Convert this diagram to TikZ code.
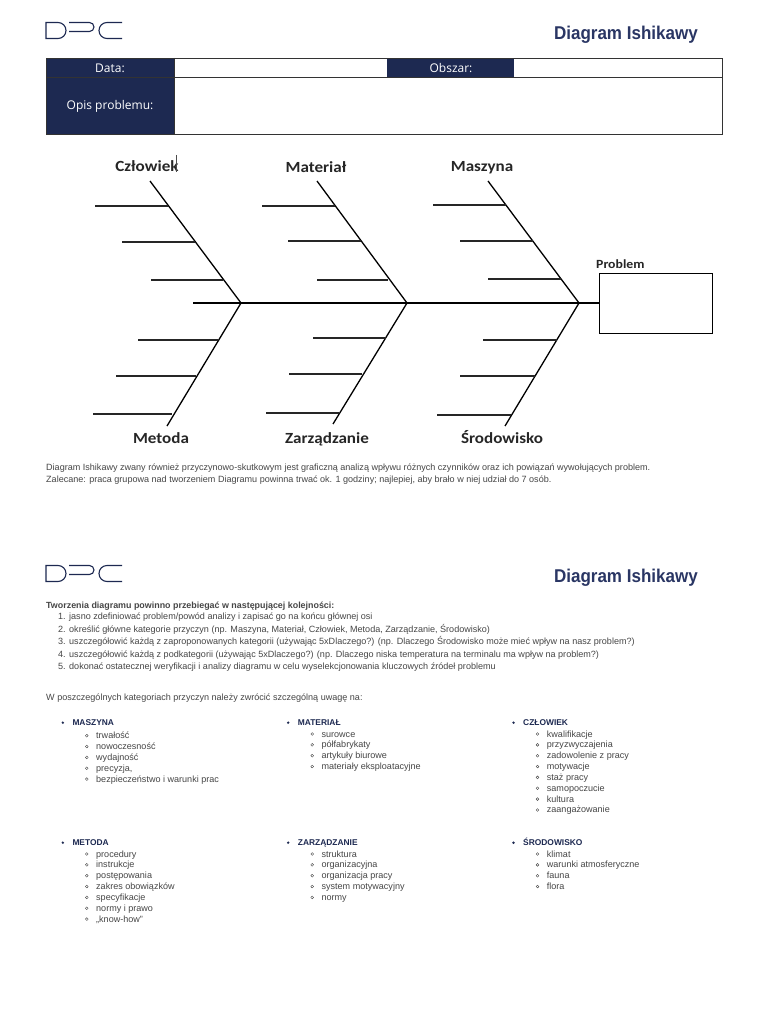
\documentclass[tikz,border=0pt]{standalone}
\usepackage{fontspec}
\setmainfont{Liberation Sans}
\newfontfamily\boldlabel{Carlito}[FakeStretch=1.1]
\newfontfamily\titlefont{Liberation Sans}[FakeStretch=0.92]
\newfontfamily\cellfont{Open Sans}
\definecolor{dpcnavy}{RGB}{29,41,81}
\definecolor{dpctitle}{RGB}{42,54,100}
\definecolor{dpctext}{RGB}{70,70,70}
\tikzset{
  ishi/.style={x=1pt,y=-1pt},
  bone/.style={black,line width=1.3pt},
  rib/.style={black!85,line width=1.3pt},
  cell/.style={text=white,font=\cellfont\fontsize{12}{14}\selectfont},
  bonelabel/.style={anchor=base,font=\boldlabel\bfseries\fontsize{15.5}{17}\selectfont,text=black!85},
  headline/.style={anchor=east,inner sep=0pt,text=dpctitle,font=\titlefont\bfseries\fontsize{18.5}{20}\selectfont},
  body/.style={anchor=base west,inner sep=0pt,text=dpctext,font=\fontsize{9.05}{11}\selectfont},
  cat/.style={anchor=base west,inner sep=0pt,text=dpcnavy,font=\fontsize{8.4}{11}\selectfont\bfseries},
  logo/.style={dpcnavy,line width=1.1pt}
}
\newcommand{\dpclogo}[1]{%
  \begin{scope}[shift={(46,#1)}]
    \draw[logo] (0,0.5) -- (12,0.5) arc[start angle=-90,end angle=90,radius=8] -- (0,16.5) -- cycle; % D
    \draw[logo] (23,0.5) -- (43.5,0.5) arc[start angle=-90,end angle=90,radius=4.5] -- (23,9.5); % P
    \draw[logo] (76,0.5) -- (61,0.5) arc[start angle=-90,end angle=-270,radius=8] -- (76,16.5); % C
  \end{scope}}
\begin{document}
\begin{tikzpicture}[ishi]
  \useasboundingbox (0,0) rectangle (768,1024);
  \fill[white] (0,0) rectangle (768,1024);

  % first header
  \dpclogo{22}
  \node[headline] (title1) at (698,34.5) {Diagram Ishikawy};

  % form table
  \fill[dpcnavy] (46,58) rectangle (174,134);
  \fill[dpcnavy] (387,58) rectangle (514,77);
  \draw[black!80,line width=0.8pt] (46,58) rectangle (722,134);
  \draw[black!80,line width=0.8pt] (46,77) -- (722,77);
  \draw[black!80,line width=0.8pt] (174,58) -- (174,134);
  \node[cell] (data) at (110,68) {Data:};
  \node[cell] (obszar) at (451,68) {Obszar:};
  \node[cell] (opis) at (110,106) {Opis problemu:};

  % main spine
  \coordinate (tail) at (193,303);
  \coordinate (headA) at (241,303);
  \coordinate (headB) at (407,303);
  \coordinate (headC) at (579,303);
  \node[draw=black,line width=1pt,minimum width=113pt,minimum height=60pt,inner sep=0pt] (problem) at (655.5,303) {};
  \draw[bone] (tail) -- (problem.west);

  % big bones
  \foreach \h/\tx/\bx/\by in {headA/150/167/426,headB/317/333/424,headC/488/505/426} {
    \draw[bone] (\tx,181) -- (\h);
    \draw[bone] (\bx,\by) -- (\h);
  }

  % small ribs
  \foreach \x/\X/\y in {95/168/206,122/195/242,151/223/280,
                        138/218/340,116/196/376,93/172/414,
                        262/335/206,288/361/241,317/388/280,
                        313/386/338,289/362/374,266/339/413,
                        433/506/205,460/533/241,488/561/279,
                        483/557/340,460/535/376,437/511/415}
    \draw[rib] (\x,\y) -- (\X,\y);

  % bone names
  \node[bonelabel] (czlowiek) at (147,172) {Człowiek};
  \node[bonelabel] (material) at (316,173) {Materiał};
  \node[bonelabel] (maszyna) at (482,172) {Maszyna};
  \node[bonelabel] (metoda) at (161,443) {Metoda};
  \node[bonelabel] (zarzadzanie) at (327,443) {Zarządzanie};
  \node[bonelabel] (srodowisko) at (502,443) {Środowisko};
  \node[bonelabel,font=\boldlabel\bfseries\fontsize{12.5}{14}\selectfont,anchor=base west,inner sep=0pt] (problemlabel) at (596,268) {Problem};
  \draw[black!70,line width=0.4pt] (176,155) -- (176,172); % stray cursor

  % note under the diagram
  \node[body] (note1) at (46,470) {Diagram Ishikawy zwany również przyczynowo-skutkowym jest graficzną analizą wpływu różnych czynników oraz ich powiązań wywołujących problem.};
  \node[body] (note2) at (46,482) {Zalecane: praca grupowa nad tworzeniem Diagramu powinna trwać ok. 1 godziny; najlepiej, aby brało w niej udział do 7 osób.};

  % second header
  \dpclogo{565}
  \node[headline] (title2) at (698,577.5) {Diagram Ishikawy};

  % steps
  \node[body,font=\fontsize{8.9}{11}\selectfont\bfseries] (steps) at (46,608) {Tworzenia diagramu powinno przebiegać w następującej kolejności:};
  \foreach \i/\y/\t in {
    1/619/{jasno zdefiniować problem/powód analizy i zapisać go na końcu głównej osi},
    2/632/{określić główne kategorie przyczyn (np. Maszyna, Materiał, Człowiek, Metoda, Zarządzanie, Środowisko)},
    3/644/{uszczegółowić każdą z zaproponowanych kategorii (używając 5xDlaczego?) (np. Dlaczego Środowisko może mieć wpływ na nasz problem?)},
    4/657/{uszczegółowić każdą z podkategorii (używając 5xDlaczego?) (np. Dlaczego niska temperatura na terminalu ma wpływ na problem?)},
    5/669/{dokonać ostatecznej weryfikacji i analizy diagramu w celu wyselekcjonowania kluczowych źródeł problemu}} {
    \node[body] (num\i) at (58,\y) {\i.};
    \node[body] (stepline\i) at (69,\y) {\t};
  }
  \node[body] (attention) at (46,700) {W poszczególnych kategoriach przyczyn należy zwrócić szczególną uwagę na:};

  % category lists
  \foreach \x/\y/\off/\name/\items in {
    72.3/725.7/13/MASZYNA/{trwałość,nowoczesność,wydajność,{precyzja,},bezpieczeństwo i warunki prac},
    297.7/725.7/11.3/MATERIAŁ/{surowce,półfabrykaty,artykuły biurowe,materiały eksploatacyjne},
    523/725.7/11.3/CZŁOWIEK/{kwalifikacje,przyzwyczajenia,zadowolenie z pracy,motywacje,staż pracy,samopoczucie,kultura,zaangażowanie},
    72.3/845.7/11.3/METODA/{procedury,instrukcje,postępowania,zakres obowiązków,specyfikacje,normy i prawo,„know-how”},
    297.7/845.7/11.3/ZARZĄDZANIE/{struktura,organizacyjna,organizacja pracy,system motywacyjny,normy},
    523/845.7/11.3/ŚRODOWISKO/{klimat,warunki atmosferyczne,fauna,flora}} {
    \fill[dpcnavy] (\x-9.5,\y-3) circle (1.3);
    \node[cat] at (\x,\y) {\name};
    \foreach \item [count=\k] in \items {
      \draw[dpctext,line width=0.4pt] (\x+14.5,\y+\off+\k*10.85-10.85-3) circle (1.4);
      \node[body] at (\x+23.7,\y+\off+\k*10.85-10.85) {\item};
    }
  }
\end{tikzpicture}
\end{document}
